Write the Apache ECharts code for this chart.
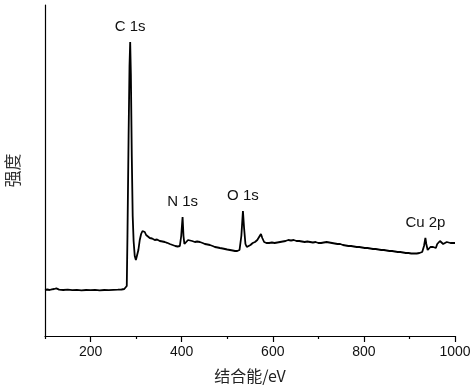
<!DOCTYPE html>
<html>
<head>
<meta charset="utf-8">
<script src="https://cdn.jsdelivr.net/npm/echarts@6/dist/echarts.min.js"></script>
<style>html,body{margin:0;padding:0;background:#fff}#c{width:474px;height:390px}</style>
</head>
<body>
<div id="c"></div>
<script>
// Binding energy (eV)
const energy = [
100,105,110,115,120,125,128,131,140,150,160,170,180,190,200,210,220,230,240,250,260,268,274,277,
279.5,281,283.5,285.5,287,288.5,290.5,292.5,294.5,297,299.5,302,305,308,311,314,316,319,322,326,330,335,341,346,352,358,363,368,374,380,386,391,396,
399,402,404,406,409,414,418,423,429,434,440,446,451,457,462,468,473,479,484,490,495,500,506,512,517,522,527,
531,534.5,537,540,543,547,551,556,561,566,570,574,577,581,586,592,598,604,610,616,622,628,634,640,646,652,658,664,670,676,682,688,694,700,
706,712,718,724,730,736,742,748,754,760,766,772,778,784,790,796,802,808,814,820,826,832,838,844,850,856,862,868,874,880,886,892,898,904,910,916,922,
928,932,935,937,940,943,946,949,952,955,958,961,964,967,970,974,978,982,986,990,995,1000
];
// Intensity (a.u.)
const intensity = [
46,46.5,46,46.6,47,47.6,47,46.4,46,46.3,45.8,46.1,45.7,46,45.8,46.1,45.7,46,45.9,46.1,46.3,46.5,47,48,
50,100,200,270,294,262,180,120,95,80,76,78,86,96,102,105,106,104,101,99,98,97.5,96,96.5,95,94.5,94,93.2,92,91,90,89.5,90,
100,119,100,92,94,96,96,95,94,94.5,94,93,92,91.5,91,90,89,88.5,88,87.5,87,86.5,86,85.5,85,85,86,
100,125,108,92,89,90,91,93,94,96,99,102,98,94,93,93,93.5,93,93.5,94,94.5,95,96,95.5,96,95,95,94.5,94,94.5,94,93.5,94,93,
93,93.5,94,93.5,93,92.5,92,92,91,90.5,90,90,89.5,89,89,88.5,88,88,87.5,87,87,86.5,86,86,85.5,85,85,84.5,84,84,83.5,83,83,82.5,82.5,82.5,83,
84,90,98,92,86,87,89,91,89,88,88,92,94,95,93,92,92,94,94,93,93,93
];
const majorTicks = [200, 400, 600, 800, 1000];
const minorTicks = [100, 300, 500, 700, 900];
const peakNames = ['C 1s', 'N 1s', 'O 1s', 'Cu 2p'];
const peakEnergies = [287, 402, 534.5, 935];

const seriesData = energy.map((e, i) => [e, intensity[i]]);
const markData = peakNames.map((n, i) => {
  const idx = energy.indexOf(peakEnergies[i]);
  return { name: n, coord: [energy[idx], intensity[idx]], value: n };
});

const FONT = "'Liberation Sans', Arial, 'Noto Sans CJK SC', sans-serif";
const chart = echarts.init(document.getElementById('c'), null, { renderer: 'canvas' });
chart.setOption({
  animation: false,
  backgroundColor: '#fff',
  grid: { left: 45, right: 19, top: 5, bottom: 54, containLabel: false, outerBoundsMode: 'none' },
  xAxis: [{
    type: 'value', min: 100, max: 1000,
    name: '结合能/eV', nameLocation: 'middle', nameGap: 32,
    nameTextStyle: { fontFamily: "'Noto Sans CJK SC', 'Liberation Sans', sans-serif", fontSize: 16, color: '#222' },
    axisLine: { show: true, onZero: false, lineStyle: { color: '#000', width: 1.2 } },
    axisTick: { show: true, customValues: majorTicks, length: 6, inside: false, lineStyle: { color: '#000', width: 1.2 } },
    axisLabel: { show: true, customValues: majorTicks, margin: 9, fontFamily: FONT, fontSize: 14, color: '#111', formatter: v => String(v) },
    splitLine: { show: false }
  }, {
    type: 'value', min: 100, max: 1000, position: 'bottom',
    axisLine: { show: false },
    axisTick: { show: true, customValues: minorTicks, length: 3, lineStyle: { color: '#000', width: 1.2 } },
    axisLabel: { show: false },
    splitLine: { show: false }
  }],
  yAxis: {
    type: 'value', min: 0, max: 331,
    name: '强度', nameLocation: 'middle', nameGap: 24,
    nameTextStyle: { fontFamily: "'Noto Sans CJK SC', sans-serif", fontSize: 17, color: '#333' },
    axisLine: { show: true, lineStyle: { color: '#000', width: 1.2 } },
    axisTick: { show: false },
    axisLabel: { show: false },
    splitLine: { show: false }
  },
  series: [{
    type: 'line',
    data: seriesData,
    showSymbol: false,
    smooth: false,
    lineStyle: { color: '#000', width: 1.8 },
    markPoint: {
      symbol: 'circle', symbolSize: 1,
      itemStyle: { color: 'rgba(0,0,0,0)' },
      label: { show: true, position: 'top', distance: 7, formatter: p => p.name, fontFamily: FONT, fontSize: 15, color: '#111' },
      data: markData
    }
  }]
});
</script>
</body>
</html>
